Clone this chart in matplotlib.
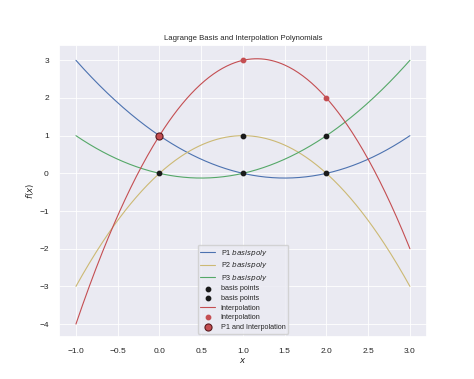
import numpy as np
import matplotlib
matplotlib.use("Agg")
import matplotlib.pyplot as plt
import seaborn as sns

sns.set_theme(style="darkgrid")
sns.set_color_codes("deep")
plt.rcParams['font.family'] = ['Liberation Sans', 'DejaVu Sans']

# Interpolation nodes and values
nodes = [0.0, 1.0, 2.0]
values = [1.0, 3.0, 2.0]
x_range = (-1.0, 3.0)
basis_labels = ["P1 $basis poly$", "P2 $basis poly$", "P3 $basis poly$"]
basis_colors = ["b", "y", "g"]
basis_pts_x = [0, 1, 2, 0, 1, 2]
basis_pts_y = [0, 0, 0, 1, 1, 1]
interp_pts_x = [1, 2]
interp_pts_y = [3, 2]
shared_pt = (0, 1)

x = np.linspace(x_range[0], x_range[1], 300)

def lagrange_basis(i, xs):
    out = np.ones_like(xs)
    for j, xj in enumerate(nodes):
        if j != i:
            out *= (xs - xj) / (nodes[i] - xj)
    return out

fig, ax = plt.subplots(figsize=(4.74, 3.79), dpi=100)
fig.subplots_adjust(left=0.125, right=0.9, bottom=0.11, top=0.88)

interp = np.zeros_like(x)
for i in range(3):
    b = lagrange_basis(i, x)
    interp += values[i] * b
    ax.plot(x, b, color=basis_colors[i], lw=0.8, label=basis_labels[i])

ax.scatter(basis_pts_x[:3], basis_pts_y[:3], color="k", s=10, zorder=3, label="basis points")
ax.scatter(basis_pts_x[3:], basis_pts_y[3:], color="k", s=10, zorder=3, label="basis points")
ax.plot(x, interp, color="r", lw=0.8, label="Interpolation")
ax.scatter(interp_pts_x, interp_pts_y, color="r", s=10, zorder=3, label="Interpolation")
ax.scatter([shared_pt[0]], [shared_pt[1]], color="r", edgecolor="#5a1a1e", linewidth=0.8,
           s=26, zorder=4, label="P1 and Interpolation")

ax.set_title("Lagrange Basis and Interpolation Polynomials", fontsize=5.6, pad=4)
ax.set_xlabel("$x$", fontsize=6.2, labelpad=1)
ax.set_ylabel("$f(x)$", fontsize=6.2, labelpad=2)
ax.tick_params(labelsize=6.0, pad=1.5)
ax.set_yticks(range(-4, 4))
ax.grid(lw=0.6)
ax.legend(loc="lower center", fontsize=5.2, labelspacing=0.35, handlelength=2.0, borderpad=0.4)

fig.savefig("out.png", dpi=100)
